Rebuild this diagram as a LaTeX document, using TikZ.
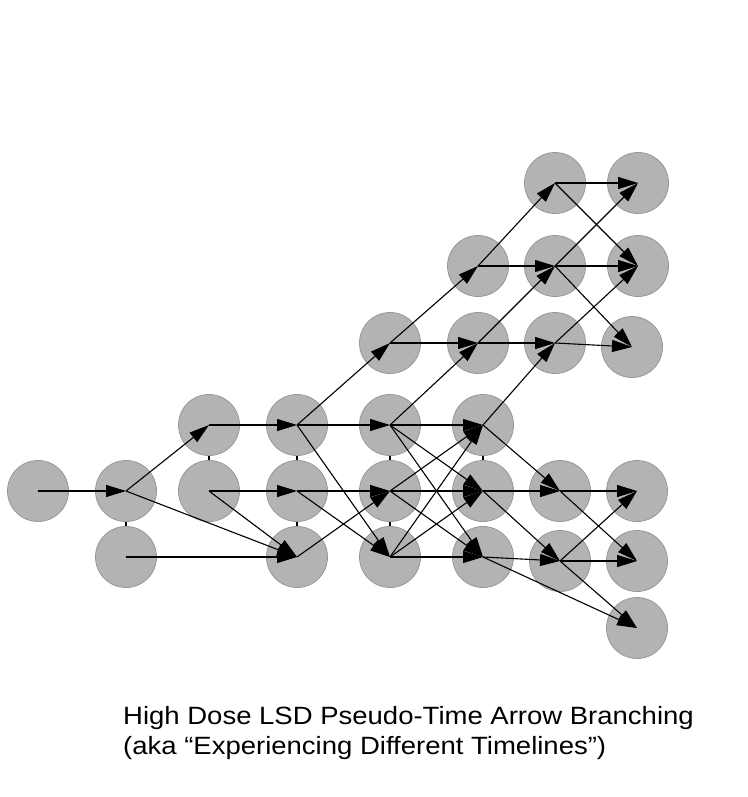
\documentclass[tikz,border=0pt]{standalone}
\usepackage{fontspec}
\setmainfont{Liberation Sans}[FakeStretch=1.1]
\usetikzlibrary{arrows.meta}

\definecolor{dotfill}{RGB}{179,179,179}
\definecolor{dotedge}{RGB}{152,152,152}

\begin{document}
\begin{tikzpicture}[x=1pt, y=1pt,
  moment/.style={circle, fill=dotfill, draw=dotedge, line width=0.8pt, minimum size=61pt, inner sep=0pt},
  branch/.style={-{Triangle[length=20pt, width=12pt]}, line width=1.1pt, black},
  link/.style={line width=1.1pt, black}]

\useasboundingbox (0, 0) rectangle (747, -797);

%% The moments, column by column

% start
\node [moment] (a) at (38, -491) {};

% 2nd column
\node [moment] (b1) at (126, -491) {};
\node [moment] (b2) at (126, -557) {};

% 3rd column
\node [moment] (c1) at (209, -425) {};
\node [moment] (c2) at (209, -491) {};

% 4th column
\node [moment] (d1) at (297, -425) {};
\node [moment] (d2) at (297, -491) {};
\node [moment] (d3) at (297, -557) {};

% 5th column
\node [moment] (e1) at (390, -343) {};
\node [moment] (e2) at (390, -425) {};
\node [moment] (e3) at (390, -491) {};
\node [moment] (e4) at (390, -557) {};

% 6th column
\node [moment] (f1) at (478, -266) {};
\node [moment] (f2) at (478, -343) {};
\node [moment] (f3) at (483, -425) {};
\node [moment] (f4) at (483, -491) {};
\node [moment] (f5) at (483, -557) {};

% 7th column
\node [moment] (g1) at (555, -183) {};
\node [moment] (g2) at (555, -266) {};
\node [moment] (g3) at (555, -343) {};
\node [moment] (g4) at (560, -491) {};
\node [moment] (g5) at (560, -561) {};

% last column
\node [moment] (h1) at (638, -183) {};
\node [moment] (h2) at (638, -266) {};
\node [moment] (h3) at (632, -347) {};
\node [moment] (h4) at (637, -491) {};
\node [moment] (h5) at (637, -561) {};
\node [moment] (h6) at (637, -628) {};

%% Short links between stacked moments
\draw [link] (b1) -- (b2);
\draw [link] (c1) -- (c2);
\draw [link] (d1) -- (d2);
\draw [link] (d2) -- (d3);
\draw [link] (e2) -- (e3);
\draw [link] (e3) -- (e4);
\draw [link] (f3) -- (f4);

%% Arrows

% from the start
\draw [branch] (a.center) -- (b1.center);

% from 2nd column
\draw [branch] (b1.center) -- (c1.center);
\draw [branch] (b1.center) -- (d3.center);
\draw [branch] (b2.center) -- (d3.center);

% from 3rd column
\draw [branch] (c1.center) -- (d1.center);
\draw [branch] (c2.center) -- (d2.center);
\draw [branch] (c2.center) -- (d3.center);

% from 4th column
\draw [branch] (d1.center) -- (e1.center);
\draw [branch] (d1.center) -- (e2.center);
\draw [branch] (d1.center) -- (e4.center);
\draw [branch] (d2.center) -- (e3.center);
\draw [branch] (d2.center) -- (e4.center);
\draw [branch] (d3.center) -- (e3.center);

% from 5th column
\draw [branch] (e1.center) -- (f1.center);
\draw [branch] (e1.center) -- (f2.center);
\draw [branch] (e2.center) -- (f2.center);
\draw [branch] (e2.center) -- (f3.center);
\draw [branch] (e2.center) -- (f4.center);
\draw [branch] (e2.center) -- (f5.center);
\draw [branch] (e3.center) -- (f3.center);
\draw [branch] (e3.center) -- (f4.center);
\draw [branch] (e3.center) -- (f5.center);
\draw [branch] (e4.center) -- (f3.center);
\draw [branch] (e4.center) -- (f4.center);
\draw [branch] (e4.center) -- (f5.center);

% from 6th column
\draw [branch] (f1.center) -- (g1.center);
\draw [branch] (f1.center) -- (g2.center);
\draw [branch] (f2.center) -- (g2.center);
\draw [branch] (f2.center) -- (g3.center);
\draw [branch] (f3.center) -- (g3.center);
\draw [branch] (f3.center) -- (g4.center);
\draw [branch] (f4.center) -- (g4.center);
\draw [branch] (f4.center) -- (g5.center);
\draw [branch] (f5.center) -- (g5.center);
\draw [branch] (f5.center) -- (h6.center);

% from 7th column
\draw [branch] (g1.center) -- (h1.center);
\draw [branch] (g1.center) -- (h2.center);
\draw [branch] (g2.center) -- (h1.center);
\draw [branch] (g2.center) -- (h2.center);
\draw [branch] (g2.center) -- (h3.center);
\draw [branch] (g3.center) -- (h2.center);
\draw [branch] (g3.center) -- (h3.center);
\draw [branch] (g4.center) -- (h4.center);
\draw [branch] (g4.center) -- (h5.center);
\draw [branch] (g5.center) -- (h4.center);
\draw [branch] (g5.center) -- (h5.center);
\draw [branch] (g5.center) -- (h6.center);

% caption (anchored on its last baseline)
\node (caption) at (123, -754) [anchor=base west, align=left, inner sep=0pt, font=\fontsize{25}{30}\selectfont]
  {High Dose LSD Pseudo-Time Arrow Branching\\(aka “Experiencing Different Timelines”)};

\end{tikzpicture}
\end{document}
